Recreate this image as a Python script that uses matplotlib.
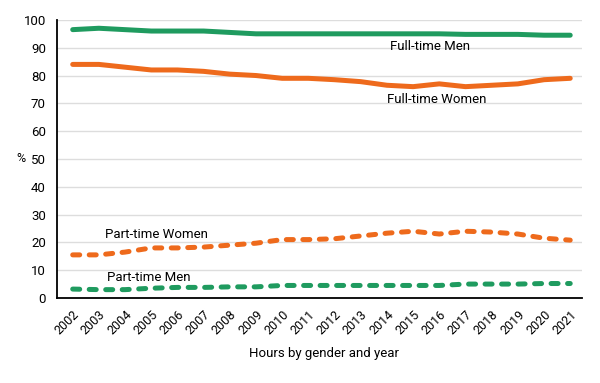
import matplotlib
matplotlib.use('Agg')
import matplotlib.pyplot as plt

years = list(range(2002, 2022))
ft_men = [96.5, 97, 96.5, 96, 96, 96, 95.5, 95, 95, 95, 95, 95, 95, 95, 95, 94.8, 94.8, 94.8, 94.5, 94.5]
ft_women = [84, 84, 83, 82, 82, 81.5, 80.5, 80, 79, 79, 78.5, 77.8, 76.5, 76, 77, 76, 76.5, 77, 78.5, 79]
pt_women = [15.5, 15.5, 16.5, 18, 18, 18.3, 19, 19.7, 21, 21, 21.3, 22.3, 23.3, 24, 23, 24, 23.7, 23, 21.5, 20.8]
pt_men = [3.2, 3, 3, 3.5, 3.8, 3.8, 4, 4, 4.5, 4.5, 4.5, 4.5, 4.5, 4.5, 4.5, 5, 5, 5, 5.2, 5.2]

green = '#1f9b5f'
orange = '#ee6a1c'

plt.rcParams['font.family'] = 'Roboto'
plt.rcParams['font.size'] = 9

fig = plt.figure(figsize=(6, 3.83), dpi=100)
ax = fig.add_axes([0.095, 0.222, 0.875, 0.726])

ax.plot(years, ft_men, color=green, linewidth=3.6, solid_capstyle='round')
ax.plot(years, ft_women, color=orange, linewidth=3.6, solid_capstyle='round')
# dashed part-time lines
ax.plot(years, pt_women, color=orange, linewidth=3.6, linestyle=(0, (1.4, 1.9)), dash_capstyle='round')
ax.plot(years, pt_men, color=green, linewidth=3.6, linestyle=(0, (1.4, 1.9)), dash_capstyle='round')

ax.text(2015.65, 90.3, 'Full-time Men', ha='center', va='center', fontsize=9.5)
ax.text(2015.9, 71.2, 'Full-time Women', ha='center', va='center', fontsize=9.5)
ax.text(2005.2, 22.7, 'Part-time Women', ha='center', va='center', fontsize=9.5)
ax.text(2004.9, 7.2, 'Part-time Men', ha='center', va='center', fontsize=9.5)

ax.set_xlim(2001.4, 2021.45)
ax.set_ylim(0, 100)
ax.set_yticks(range(0, 101, 10))
ax.set_xticks(years)
ax.set_xticklabels([str(y) for y in years], rotation=45, ha='right', rotation_mode='anchor')
ax.tick_params(axis='both', length=0, labelsize=9)
ax.tick_params(axis='y', labelsize=9.5, pad=8)
ax.tick_params(axis='x', pad=7)
ax.grid(axis='y', color='#dddddd', linewidth=1)
ax.set_axisbelow(True)
for s in ['top', 'right']:
    ax.spines[s].set_visible(False)
ax.spines['left'].set_linewidth(1.3)
ax.spines['bottom'].set_linewidth(1.3)

fig.text(0.035, 1 - 159 / 383, '%', ha='center', va='center', fontsize=9)
fig.text(0.54, 1 - 353 / 383, 'Hours by gender and year', ha='center', va='center', fontsize=9.5)

plt.savefig('out.png', dpi=100)
